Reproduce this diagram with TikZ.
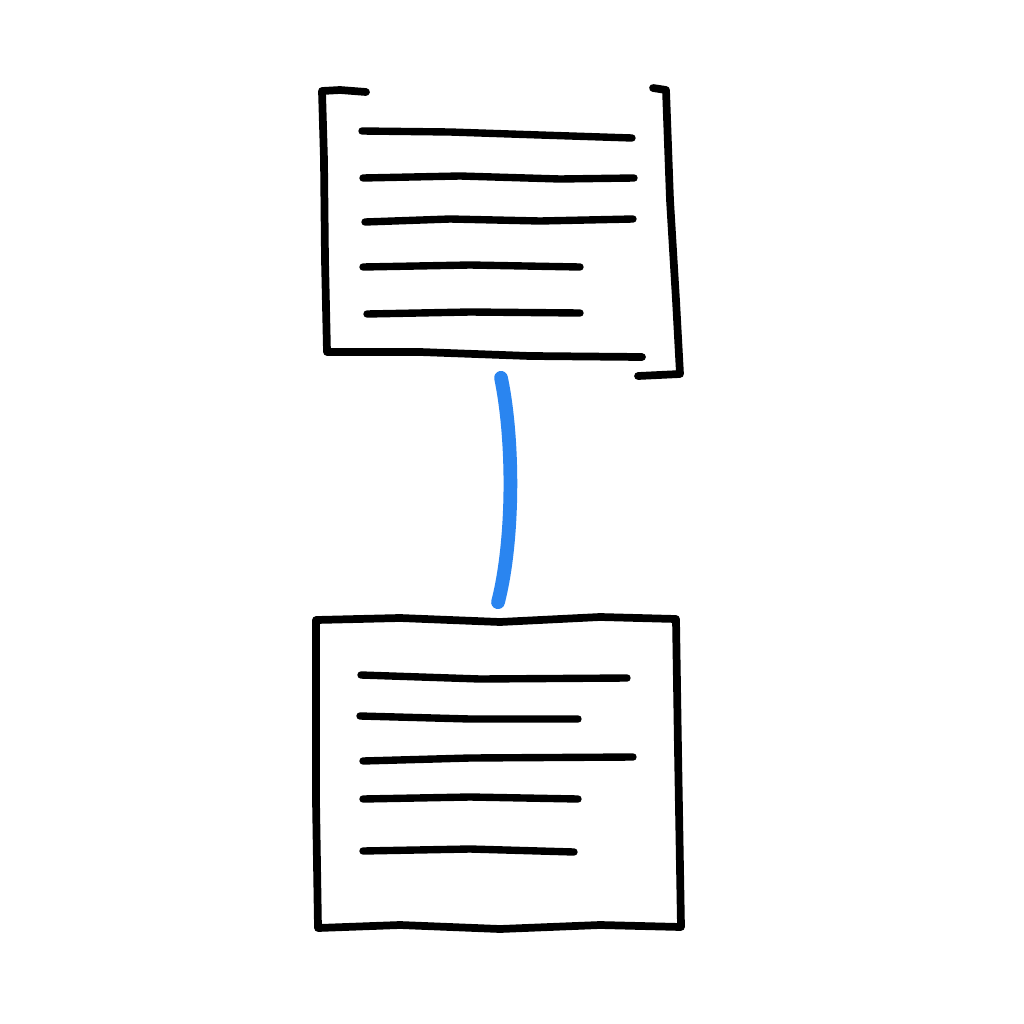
\documentclass[tikz,border=0pt]{standalone}
\usepackage{tikz}
\usetikzlibrary{positioning}
\definecolor{linkblue}{HTML}{2A85F0}

\begin{document}
\begin{tikzpicture}[
    x=0.01cm, y=-0.01cm,
    ink/.style={draw=black, line width=2.2pt, line cap=round, line join=round},
    textline/.style={draw=black, line width=2.1pt, line cap=round, line join=round},
    link/.style={draw=linkblue, line width=3.9pt, line cap=round},
    sheet/.style={shape=rectangle, minimum width=3.6cm, minimum height=3.1cm, inner sep=0pt},
]
\useasboundingbox (0,0) rectangle (1024,1024);
\fill[white] (0,0) rectangle (1024,1024);

\node[sheet] (upper) at (501,222) {};
\node[sheet] (lower) at (498,758) {};

% upper sheet, open corners
\draw[ink] (366,92) -- (340,90) -- (322,91) -- (324,160) -- (325,260) -- (327,352)
    -- (420,352) -- (530,356) -- (642,357);
\draw[ink] (653,88) -- (666,90) -- (670,200) -- (676,300) -- (680,374) -- (638,376);
\draw[textline] (362,131) -- (450,132) -- (540,135) -- (632,138);
\draw[textline] (363,178) -- (460,176) -- (560,179) -- (634,178);
\draw[textline] (365,222) -- (450,219) -- (540,221) -- (633,219);
\draw[textline] (363,267) -- (470,265) -- (580,267);
\draw[textline] (367,314) -- (470,312) -- (580,313);

% lower sheet
\draw[ink] (316,620) -- (400,618) -- (500,622) -- (600,617) -- (676,619) -- (678,750)
    -- (681,927) -- (600,925) -- (500,929) -- (400,925) -- (318,928) -- (316,800) -- cycle;
\draw[textline] (361,675) -- (480,679) -- (627,678);
\draw[textline] (360,716) -- (470,719) -- (578,719);
\draw[textline] (363,761) -- (470,758) -- (633,757);
\draw[textline] (363,799) -- (470,797) -- (578,799);
\draw[textline] (363,851) -- (470,849) -- (574,852);

\draw[link] (upper.south) .. controls (514,440) and (514,540) .. (lower.north);
\end{tikzpicture}
\end{document}
